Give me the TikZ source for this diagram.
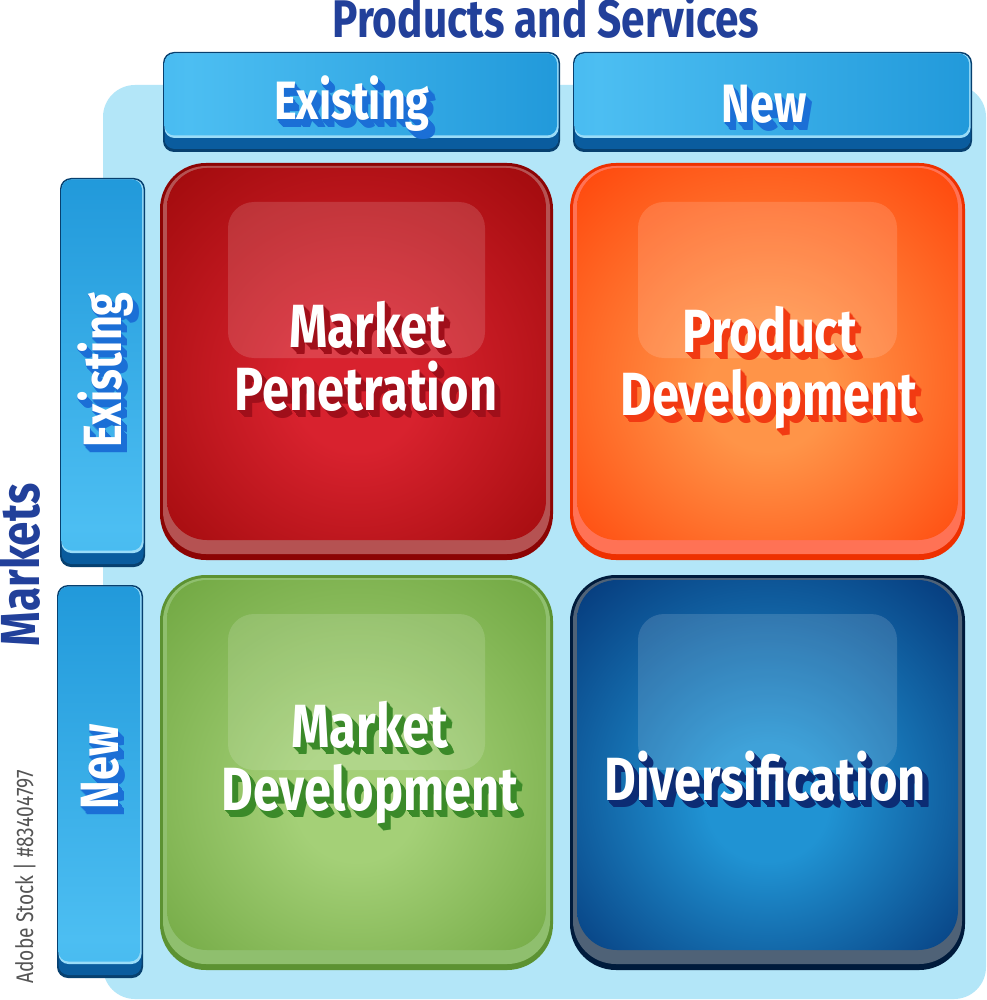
\documentclass[tikz,border=0pt]{standalone}
\usepackage{fontspec}
\setmainfont{Fira Sans}
\newfontfamily\condf[FakeStretch=0.8]{Fira Sans}

\definecolor{bgblue}{HTML}{B3E6F8}
\definecolor{titleblue}{HTML}{22409A}
\definecolor{btnlight}{HTML}{4CBEF2}
\definecolor{btnmid}{HTML}{2FA6E6}
\definecolor{btndark}{HTML}{0B86CE}
\definecolor{btnbase}{HTML}{0A5C9E}
\definecolor{btnedge}{HTML}{07406F}
\definecolor{btnline}{HTML}{9ADCF8}
\definecolor{hsh}{HTML}{1B6FD6}
\definecolor{wmgray}{HTML}{555555}
% red
\definecolor{rededge}{HTML}{8C0404}
\definecolor{redband}{HTML}{B55252}
\definecolor{redin}{HTML}{D8222E}
\definecolor{redout}{HTML}{960606}
\definecolor{redsh}{HTML}{A00F1A}
% orange
\definecolor{oredge}{HTML}{EE3000}
\definecolor{orband}{HTML}{FF7255}
\definecolor{orin}{HTML}{FF9448}
\definecolor{orout}{HTML}{FF3800}
\definecolor{orsh}{HTML}{F23A12}
% green
\definecolor{gredge}{HTML}{5C9232}
\definecolor{grband}{HTML}{8FBF6E}
\definecolor{grin}{HTML}{A4D077}
\definecolor{grout}{HTML}{67A038}
\definecolor{grsh}{HTML}{3B8A29}
% blue
\definecolor{bledge}{HTML}{001B3C}
\definecolor{blband}{HTML}{4F6277}
\definecolor{blin}{HTML}{2093D3}
\definecolor{blout}{HTML}{00286A}
\definecolor{blsh}{HTML}{0C2C74}

\pgfdeclarehorizontalshading{btnh}{100bp}{color(0bp)=(btnmid); color(28bp)=(btnlight); color(100bp)=(btndark)}
\pgfdeclareverticalshading{btnv}{100bp}{color(0bp)=(btnmid); color(28bp)=(btnlight); color(100bp)=(btndark)}
\pgfdeclareradialshading{redgrad}{\pgfpoint{0bp}{-6bp}}{color(0bp)=(redin); color(8bp)=(redin); color(42bp)=(redout); color(50bp)=(redout)}
\pgfdeclareradialshading{orgrad}{\pgfpoint{0bp}{-6bp}}{color(0bp)=(orin); color(8bp)=(orin); color(42bp)=(orout); color(50bp)=(orout)}
\pgfdeclareradialshading{grgrad}{\pgfpoint{0bp}{-6bp}}{color(0bp)=(grin); color(8bp)=(grin); color(42bp)=(grout); color(50bp)=(grout)}
\pgfdeclareradialshading{blgrad}{\pgfpoint{0bp}{-6bp}}{color(0bp)=(blin); color(8bp)=(blin); color(42bp)=(blout); color(50bp)=(blout)}

\tikzset{
  lbl/.style={anchor=base, inner sep=0pt, outer sep=0pt},
  qf/.style={font=\condf\bfseries\fontsize{61}{63}\selectfont},
  hf/.style={font=\condf\bfseries\fontsize{54}{56}\selectfont},
}

% button: x1 y1 x2 y2 shading
\newcommand\btnbox[5]{%
  \fill[btnedge, rounded corners=11pt] (#1,#2) rectangle (#3,#4);
  \fill[btnbase, rounded corners=10pt] ({#1+1.5},{#2+1.5}) rectangle ({#3-1.5},{#4-3});
  \fill[btnline, rounded corners=10pt] ({#1+1.5},{#2+1.5}) rectangle ({#3-1.5},{#4-14});
  \shade[shading=#5, rounded corners=10pt] ({#1+1.5},{#2+1.5}) rectangle ({#3-3},{#4-16.5});
}
% quadrant: x1 y1 x2 y2 prefix
\newcommand\quadrant[5]{%
  \fill[#5edge, rounded corners=46pt] (#1,#2) rectangle (#3,#4);
  \fill[#5band, rounded corners=43pt] ({#1+3},{#2+3}) rectangle ({#3-3},{#4-6});
  \shade[shading=#5grad, rounded corners=40pt] ({#1+7},{#2+5}) rectangle ({#3-7},{#4-20});
  \fill[white, opacity=0.14, rounded corners=26pt] ({#1+68},{#2+39}) rectangle ({#3-68},{#2+195});
}
% shadowed text: [opts] name x y shadowcolor text
\newcommand\shtext[6][]{%
  \foreach \k in {1,...,7}{\node[lbl,#1,text=#5] (#2s\k) at ({#3+0.9*\k},{#4+1.1*\k}) {#6};}
  \node[lbl,#1,text=white] (#2) at (#3,#4) {#6};
}

\begin{document}
\begin{tikzpicture}[x=1pt,y=-1pt]
\useasboundingbox (0,0) rectangle (986,1000);
\fill[white] (0,0) rectangle (986,1000);

% backdrop
\fill[bgblue, rounded corners=32pt] (103,85) rectangle (986,999);

% header buttons
\btnbox{163}{52}{560}{152}{btnh}
\btnbox{573}{52}{972}{152}{btnh}
\btnbox{60}{178}{145}{567}{btnv}
\btnbox{57}{585}{143}{978}{btnv}

% quadrants
\quadrant{160}{163}{553}{560}{red}
\quadrant{570}{163}{965}{560}{or}
\quadrant{160}{575}{553}{970}{gr}
\quadrant{570}{575}{965}{970}{bl}

% titles
\node[lbl, text=titleblue, font=\condf\bfseries\fontsize{53}{55}\selectfont] (title) at (546,38) {Products and Services};
\node[lbl, rotate=90, text=titleblue, font=\condf\bfseries\fontsize{55}{57}\selectfont] (markets) at (39,565) {Markets};
\node[lbl, rotate=90, text=wmgray, font=\condf\fontsize{24}{26}\selectfont] (wm) at (33,877) {Adobe Stock | \#83404797};

% header labels
\shtext[hf]{hex}{352}{120}{hsh}{Existing}
\shtext[hf]{hnew}{764}{123}{hsh}{New}
\shtext[hf,rotate=90]{lex}{121}{370}{hsh}{Existing}
\shtext[hf,rotate=90]{lnew}{118}{767}{hsh}{New}

% quadrant labels
\shtext[qf]{mp1}{368}{347}{redsh}{Market}
\shtext[qf]{mp2}{366}{410}{redsh}{Penetration}
\shtext[qf]{pd1}{770}{352}{orsh}{Product}
\shtext[qf]{pd2}{769}{415}{orsh}{Development}
\shtext[qf]{md1}{370}{747}{grsh}{Market}
\shtext[qf]{md2}{370}{810}{grsh}{Development}
\shtext[qf]{dv}{765}{800}{blsh}{Diversification}
\end{tikzpicture}
\end{document}
